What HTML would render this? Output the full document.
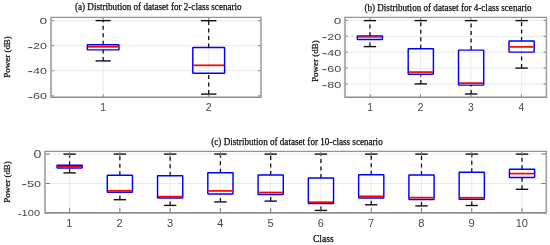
<!DOCTYPE html>
<html><head><meta charset="utf-8"><title>Distribution of dataset</title><style>
html,body{margin:0;padding:0;background:#fff;}
body{width:550px;height:245px;overflow:hidden;}
svg{display:block;}
.tk{font-family:"Liberation Sans", "DejaVu Sans", sans-serif;fill:#484848;}
.ti{font-family:"Liberation Serif", "DejaVu Serif", serif;font-size:9.4px;fill:#111;stroke:#111;stroke-width:0.25px;}
</style></head><body>
<svg width="550" height="245" viewBox="0 0 550 245">
<rect width="550" height="245" fill="#fff"/>
<line x1="51.0" y1="20.7" x2="261.0" y2="20.7" stroke="#ebebeb" stroke-width="1"/>
<line x1="51.0" y1="45.6" x2="261.0" y2="45.6" stroke="#ebebeb" stroke-width="1"/>
<line x1="51.0" y1="70.7" x2="261.0" y2="70.7" stroke="#ebebeb" stroke-width="1"/>
<line x1="103.25" y1="17.4" x2="103.25" y2="97.3" stroke="#ebebeb" stroke-width="1"/>
<line x1="208.75" y1="17.4" x2="208.75" y2="97.3" stroke="#ebebeb" stroke-width="1"/>
<line x1="103.15" y1="44.8" x2="103.15" y2="20.6" stroke="#111" stroke-width="1.3" stroke-dasharray="4 3.5"/>
<line x1="103.15" y1="60.9" x2="103.15" y2="49.9" stroke="#111" stroke-width="1.3" stroke-dasharray="4 3.5"/>
<line x1="95.55" y1="20.6" x2="110.75" y2="20.6" stroke="#111" stroke-width="1.4"/>
<line x1="95.55" y1="60.9" x2="110.75" y2="60.9" stroke="#111" stroke-width="1.4"/>
<rect x="87.35" y="44.8" width="31.6" height="5.1" rx="0.4" fill="none" stroke="#0000ff" stroke-width="1.45"/>
<line x1="87.85" y1="46.8" x2="118.45" y2="46.8" stroke="#ff0000" stroke-width="1.7"/>
<line x1="208.7" y1="47.5" x2="208.7" y2="20.7" stroke="#111" stroke-width="1.3" stroke-dasharray="4 3.5"/>
<line x1="208.7" y1="94.1" x2="208.7" y2="73.3" stroke="#111" stroke-width="1.3" stroke-dasharray="4 3.5"/>
<line x1="201.0" y1="20.7" x2="216.4" y2="20.7" stroke="#111" stroke-width="1.4"/>
<line x1="201.0" y1="94.1" x2="216.4" y2="94.1" stroke="#111" stroke-width="1.4"/>
<rect x="192.8" y="47.5" width="31.8" height="25.8" rx="0.4" fill="none" stroke="#0000ff" stroke-width="1.45"/>
<line x1="193.3" y1="65.3" x2="224.1" y2="65.3" stroke="#ff0000" stroke-width="1.7"/>
<line x1="51.0" y1="20.7" x2="53.8" y2="20.7" stroke="#7a7a7a" stroke-width="1"/>
<line x1="261.0" y1="20.7" x2="258.2" y2="20.7" stroke="#7a7a7a" stroke-width="1"/>
<line x1="51.0" y1="45.6" x2="53.8" y2="45.6" stroke="#7a7a7a" stroke-width="1"/>
<line x1="261.0" y1="45.6" x2="258.2" y2="45.6" stroke="#7a7a7a" stroke-width="1"/>
<line x1="51.0" y1="70.7" x2="53.8" y2="70.7" stroke="#7a7a7a" stroke-width="1"/>
<line x1="261.0" y1="70.7" x2="258.2" y2="70.7" stroke="#7a7a7a" stroke-width="1"/>
<line x1="51.0" y1="95.8" x2="53.8" y2="95.8" stroke="#7a7a7a" stroke-width="1"/>
<line x1="261.0" y1="95.8" x2="258.2" y2="95.8" stroke="#7a7a7a" stroke-width="1"/>
<line x1="103.25" y1="97.3" x2="103.25" y2="94.5" stroke="#7a7a7a" stroke-width="1"/>
<line x1="103.25" y1="17.4" x2="103.25" y2="20.2" stroke="#7a7a7a" stroke-width="1"/>
<line x1="208.75" y1="97.3" x2="208.75" y2="94.5" stroke="#7a7a7a" stroke-width="1"/>
<line x1="208.75" y1="17.4" x2="208.75" y2="20.2" stroke="#7a7a7a" stroke-width="1"/>
<line x1="51.0" y1="16.8" x2="51.0" y2="97.9" stroke="#b0b0b0" stroke-width="2.1"/>
<line x1="261.0" y1="16.8" x2="261.0" y2="97.9" stroke="#a4a4a4" stroke-width="1.7"/>
<line x1="51.0" y1="17.4" x2="261.0" y2="17.4" stroke="#959595" stroke-width="1.35"/>
<line x1="51.0" y1="97.3" x2="261.0" y2="97.3" stroke="#8e8e8e" stroke-width="1.6"/>
<line x1="345.0" y1="20.4" x2="546.4" y2="20.4" stroke="#ebebeb" stroke-width="1"/>
<line x1="345.0" y1="36.3" x2="546.4" y2="36.3" stroke="#ebebeb" stroke-width="1"/>
<line x1="345.0" y1="52.2" x2="546.4" y2="52.2" stroke="#ebebeb" stroke-width="1"/>
<line x1="345.0" y1="68.1" x2="546.4" y2="68.1" stroke="#ebebeb" stroke-width="1"/>
<line x1="345.0" y1="84.0" x2="546.4" y2="84.0" stroke="#ebebeb" stroke-width="1"/>
<line x1="370.1" y1="17.3" x2="370.1" y2="97.3" stroke="#ebebeb" stroke-width="1"/>
<line x1="420.5" y1="17.3" x2="420.5" y2="97.3" stroke="#ebebeb" stroke-width="1"/>
<line x1="470.9" y1="17.3" x2="470.9" y2="97.3" stroke="#ebebeb" stroke-width="1"/>
<line x1="521.4" y1="17.3" x2="521.4" y2="97.3" stroke="#ebebeb" stroke-width="1"/>
<line x1="369.9" y1="35.9" x2="369.9" y2="20.6" stroke="#111" stroke-width="1.3" stroke-dasharray="4 3.5"/>
<line x1="369.9" y1="46.6" x2="369.9" y2="39.5" stroke="#111" stroke-width="1.3" stroke-dasharray="4 3.5"/>
<line x1="363.7" y1="20.6" x2="376.1" y2="20.6" stroke="#111" stroke-width="1.4"/>
<line x1="363.7" y1="46.6" x2="376.1" y2="46.6" stroke="#111" stroke-width="1.4"/>
<rect x="357.3" y="35.9" width="25.2" height="3.6" rx="0.4" fill="none" stroke="#0000ff" stroke-width="1.45"/>
<line x1="357.8" y1="37.1" x2="382.0" y2="37.1" stroke="#ff0000" stroke-width="1.2"/>
<line x1="420.8" y1="48.8" x2="420.8" y2="20.6" stroke="#111" stroke-width="1.3" stroke-dasharray="4 3.5"/>
<line x1="420.8" y1="83.9" x2="420.8" y2="74.2" stroke="#111" stroke-width="1.3" stroke-dasharray="4 3.5"/>
<line x1="414.6" y1="20.6" x2="427.0" y2="20.6" stroke="#111" stroke-width="1.4"/>
<line x1="414.6" y1="83.9" x2="427.0" y2="83.9" stroke="#111" stroke-width="1.4"/>
<rect x="408.2" y="48.8" width="25.2" height="25.4" rx="0.4" fill="none" stroke="#0000ff" stroke-width="1.45"/>
<line x1="408.7" y1="72.1" x2="432.9" y2="72.1" stroke="#ff0000" stroke-width="1.7"/>
<line x1="471.1" y1="50.1" x2="471.1" y2="20.6" stroke="#111" stroke-width="1.3" stroke-dasharray="4 3.5"/>
<line x1="471.1" y1="94.0" x2="471.1" y2="85.1" stroke="#111" stroke-width="1.3" stroke-dasharray="4 3.5"/>
<line x1="464.9" y1="20.6" x2="477.3" y2="20.6" stroke="#111" stroke-width="1.4"/>
<line x1="464.9" y1="94.0" x2="477.3" y2="94.0" stroke="#111" stroke-width="1.4"/>
<rect x="458.5" y="50.1" width="25.2" height="35" rx="0.4" fill="none" stroke="#0000ff" stroke-width="1.45"/>
<line x1="459.0" y1="83.1" x2="483.2" y2="83.1" stroke="#ff0000" stroke-width="1.7"/>
<line x1="521.6" y1="41.0" x2="521.6" y2="20.6" stroke="#111" stroke-width="1.3" stroke-dasharray="4 3.5"/>
<line x1="521.6" y1="68.1" x2="521.6" y2="52.1" stroke="#111" stroke-width="1.3" stroke-dasharray="4 3.5"/>
<line x1="515.4" y1="20.6" x2="527.8" y2="20.6" stroke="#111" stroke-width="1.4"/>
<line x1="515.4" y1="68.1" x2="527.8" y2="68.1" stroke="#111" stroke-width="1.4"/>
<rect x="509.0" y="41.0" width="25.2" height="11.1" rx="0.4" fill="none" stroke="#0000ff" stroke-width="1.45"/>
<line x1="509.5" y1="46.9" x2="533.7" y2="46.9" stroke="#ff0000" stroke-width="1.7"/>
<line x1="345.0" y1="20.4" x2="347.8" y2="20.4" stroke="#7a7a7a" stroke-width="1"/>
<line x1="546.4" y1="20.4" x2="543.6" y2="20.4" stroke="#7a7a7a" stroke-width="1"/>
<line x1="345.0" y1="36.3" x2="347.8" y2="36.3" stroke="#7a7a7a" stroke-width="1"/>
<line x1="546.4" y1="36.3" x2="543.6" y2="36.3" stroke="#7a7a7a" stroke-width="1"/>
<line x1="345.0" y1="52.2" x2="347.8" y2="52.2" stroke="#7a7a7a" stroke-width="1"/>
<line x1="546.4" y1="52.2" x2="543.6" y2="52.2" stroke="#7a7a7a" stroke-width="1"/>
<line x1="345.0" y1="68.1" x2="347.8" y2="68.1" stroke="#7a7a7a" stroke-width="1"/>
<line x1="546.4" y1="68.1" x2="543.6" y2="68.1" stroke="#7a7a7a" stroke-width="1"/>
<line x1="345.0" y1="84.0" x2="347.8" y2="84.0" stroke="#7a7a7a" stroke-width="1"/>
<line x1="546.4" y1="84.0" x2="543.6" y2="84.0" stroke="#7a7a7a" stroke-width="1"/>
<line x1="370.1" y1="97.3" x2="370.1" y2="94.5" stroke="#7a7a7a" stroke-width="1"/>
<line x1="370.1" y1="17.3" x2="370.1" y2="20.1" stroke="#7a7a7a" stroke-width="1"/>
<line x1="420.5" y1="97.3" x2="420.5" y2="94.5" stroke="#7a7a7a" stroke-width="1"/>
<line x1="420.5" y1="17.3" x2="420.5" y2="20.1" stroke="#7a7a7a" stroke-width="1"/>
<line x1="470.9" y1="97.3" x2="470.9" y2="94.5" stroke="#7a7a7a" stroke-width="1"/>
<line x1="470.9" y1="17.3" x2="470.9" y2="20.1" stroke="#7a7a7a" stroke-width="1"/>
<line x1="521.4" y1="97.3" x2="521.4" y2="94.5" stroke="#7a7a7a" stroke-width="1"/>
<line x1="521.4" y1="17.3" x2="521.4" y2="20.1" stroke="#7a7a7a" stroke-width="1"/>
<line x1="345.0" y1="16.7" x2="345.0" y2="97.9" stroke="#b0b0b0" stroke-width="2.1"/>
<line x1="546.4" y1="16.7" x2="546.4" y2="97.9" stroke="#a4a4a4" stroke-width="1.7"/>
<line x1="345.0" y1="17.3" x2="546.4" y2="17.3" stroke="#959595" stroke-width="1.35"/>
<line x1="345.0" y1="97.3" x2="546.4" y2="97.3" stroke="#8e8e8e" stroke-width="1.6"/>
<line x1="45.0" y1="154.0" x2="546.3" y2="154.0" stroke="#ebebeb" stroke-width="1"/>
<line x1="45.0" y1="183.5" x2="546.3" y2="183.5" stroke="#ebebeb" stroke-width="1"/>
<line x1="69.6" y1="151.4" x2="69.6" y2="212.9" stroke="#ebebeb" stroke-width="1"/>
<line x1="119.87" y1="151.4" x2="119.87" y2="212.9" stroke="#ebebeb" stroke-width="1"/>
<line x1="170.14" y1="151.4" x2="170.14" y2="212.9" stroke="#ebebeb" stroke-width="1"/>
<line x1="220.41" y1="151.4" x2="220.41" y2="212.9" stroke="#ebebeb" stroke-width="1"/>
<line x1="270.68" y1="151.4" x2="270.68" y2="212.9" stroke="#ebebeb" stroke-width="1"/>
<line x1="320.95" y1="151.4" x2="320.95" y2="212.9" stroke="#ebebeb" stroke-width="1"/>
<line x1="371.22" y1="151.4" x2="371.22" y2="212.9" stroke="#ebebeb" stroke-width="1"/>
<line x1="421.49" y1="151.4" x2="421.49" y2="212.9" stroke="#ebebeb" stroke-width="1"/>
<line x1="471.76" y1="151.4" x2="471.76" y2="212.9" stroke="#ebebeb" stroke-width="1"/>
<line x1="522.03" y1="151.4" x2="522.03" y2="212.9" stroke="#ebebeb" stroke-width="1"/>
<line x1="69.6" y1="165.2" x2="69.6" y2="154.1" stroke="#111" stroke-width="1.3" stroke-dasharray="4 3.5"/>
<line x1="69.6" y1="172.9" x2="69.6" y2="168.0" stroke="#111" stroke-width="1.3" stroke-dasharray="4 3.5"/>
<line x1="63.4" y1="154.1" x2="75.8" y2="154.1" stroke="#111" stroke-width="1.4"/>
<line x1="63.4" y1="172.9" x2="75.8" y2="172.9" stroke="#111" stroke-width="1.4"/>
<rect x="57" y="165.2" width="25.2" height="2.8" rx="0.4" fill="none" stroke="#0000ff" stroke-width="1.45"/>
<line x1="57.5" y1="166.5" x2="81.7" y2="166.5" stroke="#ff0000" stroke-width="1.0"/>
<line x1="119.87" y1="175.3" x2="119.87" y2="154.1" stroke="#111" stroke-width="1.3" stroke-dasharray="4 3.5"/>
<line x1="119.87" y1="199.7" x2="119.87" y2="192.2" stroke="#111" stroke-width="1.3" stroke-dasharray="4 3.5"/>
<line x1="113.67" y1="154.1" x2="126.07" y2="154.1" stroke="#111" stroke-width="1.4"/>
<line x1="113.67" y1="199.7" x2="126.07" y2="199.7" stroke="#111" stroke-width="1.4"/>
<rect x="107.27" y="175.3" width="25.2" height="16.9" rx="0.4" fill="none" stroke="#0000ff" stroke-width="1.45"/>
<line x1="107.77" y1="190.8" x2="131.97" y2="190.8" stroke="#ff0000" stroke-width="1.7"/>
<line x1="170.14" y1="175.7" x2="170.14" y2="154.1" stroke="#111" stroke-width="1.3" stroke-dasharray="4 3.5"/>
<line x1="170.14" y1="205.4" x2="170.14" y2="198.0" stroke="#111" stroke-width="1.3" stroke-dasharray="4 3.5"/>
<line x1="163.94" y1="154.1" x2="176.34" y2="154.1" stroke="#111" stroke-width="1.4"/>
<line x1="163.94" y1="205.4" x2="176.34" y2="205.4" stroke="#111" stroke-width="1.4"/>
<rect x="157.54" y="175.7" width="25.2" height="22.3" rx="0.4" fill="none" stroke="#0000ff" stroke-width="1.45"/>
<line x1="158.04" y1="196.6" x2="182.24" y2="196.6" stroke="#ff0000" stroke-width="1.7"/>
<line x1="220.41" y1="172.7" x2="220.41" y2="154.1" stroke="#111" stroke-width="1.3" stroke-dasharray="4 3.5"/>
<line x1="220.41" y1="201.9" x2="220.41" y2="194.0" stroke="#111" stroke-width="1.3" stroke-dasharray="4 3.5"/>
<line x1="214.21" y1="154.1" x2="226.61" y2="154.1" stroke="#111" stroke-width="1.4"/>
<line x1="214.21" y1="201.9" x2="226.61" y2="201.9" stroke="#111" stroke-width="1.4"/>
<rect x="207.81" y="172.7" width="25.2" height="21.3" rx="0.4" fill="none" stroke="#0000ff" stroke-width="1.45"/>
<line x1="208.31" y1="190.9" x2="232.51" y2="190.9" stroke="#ff0000" stroke-width="1.7"/>
<line x1="270.68" y1="174.9" x2="270.68" y2="154.1" stroke="#111" stroke-width="1.3" stroke-dasharray="4 3.5"/>
<line x1="270.68" y1="201.1" x2="270.68" y2="194.4" stroke="#111" stroke-width="1.3" stroke-dasharray="4 3.5"/>
<line x1="264.48" y1="154.1" x2="276.88" y2="154.1" stroke="#111" stroke-width="1.4"/>
<line x1="264.48" y1="201.1" x2="276.88" y2="201.1" stroke="#111" stroke-width="1.4"/>
<rect x="258.08" y="174.9" width="25.2" height="19.5" rx="0.4" fill="none" stroke="#0000ff" stroke-width="1.45"/>
<line x1="258.58" y1="192.5" x2="282.78" y2="192.5" stroke="#ff0000" stroke-width="1.7"/>
<line x1="320.95" y1="178.0" x2="320.95" y2="154.1" stroke="#111" stroke-width="1.3" stroke-dasharray="4 3.5"/>
<line x1="320.95" y1="210.4" x2="320.95" y2="203.6" stroke="#111" stroke-width="1.3" stroke-dasharray="4 3.5"/>
<line x1="314.75" y1="154.1" x2="327.15" y2="154.1" stroke="#111" stroke-width="1.4"/>
<line x1="314.75" y1="210.4" x2="327.15" y2="210.4" stroke="#111" stroke-width="1.4"/>
<rect x="308.35" y="178.0" width="25.2" height="25.6" rx="0.4" fill="none" stroke="#0000ff" stroke-width="1.45"/>
<line x1="308.85" y1="202.2" x2="333.05" y2="202.2" stroke="#ff0000" stroke-width="1.7"/>
<line x1="371.22" y1="174.7" x2="371.22" y2="154.1" stroke="#111" stroke-width="1.3" stroke-dasharray="4 3.5"/>
<line x1="371.22" y1="204.8" x2="371.22" y2="198.0" stroke="#111" stroke-width="1.3" stroke-dasharray="4 3.5"/>
<line x1="365.02" y1="154.1" x2="377.42" y2="154.1" stroke="#111" stroke-width="1.4"/>
<line x1="365.02" y1="204.8" x2="377.42" y2="204.8" stroke="#111" stroke-width="1.4"/>
<rect x="358.62" y="174.7" width="25.2" height="23.3" rx="0.4" fill="none" stroke="#0000ff" stroke-width="1.45"/>
<line x1="359.12" y1="196.3" x2="383.32" y2="196.3" stroke="#ff0000" stroke-width="1.7"/>
<line x1="421.49" y1="175.0" x2="421.49" y2="154.1" stroke="#111" stroke-width="1.3" stroke-dasharray="4 3.5"/>
<line x1="421.49" y1="205.9" x2="421.49" y2="199.5" stroke="#111" stroke-width="1.3" stroke-dasharray="4 3.5"/>
<line x1="415.29" y1="154.1" x2="427.69" y2="154.1" stroke="#111" stroke-width="1.4"/>
<line x1="415.29" y1="205.9" x2="427.69" y2="205.9" stroke="#111" stroke-width="1.4"/>
<rect x="408.89" y="175.0" width="25.2" height="24.5" rx="0.4" fill="none" stroke="#0000ff" stroke-width="1.45"/>
<line x1="409.39" y1="197.6" x2="433.59" y2="197.6" stroke="#ff0000" stroke-width="1.7"/>
<line x1="471.76" y1="172.2" x2="471.76" y2="154.1" stroke="#111" stroke-width="1.3" stroke-dasharray="4 3.5"/>
<line x1="471.76" y1="205.5" x2="471.76" y2="199.2" stroke="#111" stroke-width="1.3" stroke-dasharray="4 3.5"/>
<line x1="465.56" y1="154.1" x2="477.96" y2="154.1" stroke="#111" stroke-width="1.4"/>
<line x1="465.56" y1="205.5" x2="477.96" y2="205.5" stroke="#111" stroke-width="1.4"/>
<rect x="459.16" y="172.2" width="25.2" height="27.0" rx="0.4" fill="none" stroke="#0000ff" stroke-width="1.45"/>
<line x1="459.66" y1="197.7" x2="483.86" y2="197.7" stroke="#ff0000" stroke-width="1.7"/>
<line x1="522.03" y1="169.3" x2="522.03" y2="154.1" stroke="#111" stroke-width="1.3" stroke-dasharray="4 3.5"/>
<line x1="522.03" y1="189.3" x2="522.03" y2="177.4" stroke="#111" stroke-width="1.3" stroke-dasharray="4 3.5"/>
<line x1="515.83" y1="154.1" x2="528.23" y2="154.1" stroke="#111" stroke-width="1.4"/>
<line x1="515.83" y1="189.3" x2="528.23" y2="189.3" stroke="#111" stroke-width="1.4"/>
<rect x="509.43" y="169.3" width="25.2" height="8.1" rx="0.4" fill="none" stroke="#0000ff" stroke-width="1.45"/>
<line x1="509.93" y1="173.6" x2="534.13" y2="173.6" stroke="#ff0000" stroke-width="1.7"/>
<line x1="45.0" y1="154.0" x2="49.8" y2="154.0" stroke="#7a7a7a" stroke-width="1"/>
<line x1="546.3" y1="154.0" x2="541.5" y2="154.0" stroke="#7a7a7a" stroke-width="1"/>
<line x1="45.0" y1="183.5" x2="49.8" y2="183.5" stroke="#7a7a7a" stroke-width="1"/>
<line x1="546.3" y1="183.5" x2="541.5" y2="183.5" stroke="#7a7a7a" stroke-width="1"/>
<line x1="45.0" y1="212.9" x2="49.8" y2="212.9" stroke="#7a7a7a" stroke-width="1"/>
<line x1="546.3" y1="212.9" x2="541.5" y2="212.9" stroke="#7a7a7a" stroke-width="1"/>
<line x1="69.6" y1="212.9" x2="69.6" y2="208.1" stroke="#7a7a7a" stroke-width="1"/>
<line x1="69.6" y1="151.4" x2="69.6" y2="156.2" stroke="#7a7a7a" stroke-width="1"/>
<line x1="119.87" y1="212.9" x2="119.87" y2="208.1" stroke="#7a7a7a" stroke-width="1"/>
<line x1="119.87" y1="151.4" x2="119.87" y2="156.2" stroke="#7a7a7a" stroke-width="1"/>
<line x1="170.14" y1="212.9" x2="170.14" y2="208.1" stroke="#7a7a7a" stroke-width="1"/>
<line x1="170.14" y1="151.4" x2="170.14" y2="156.2" stroke="#7a7a7a" stroke-width="1"/>
<line x1="220.41" y1="212.9" x2="220.41" y2="208.1" stroke="#7a7a7a" stroke-width="1"/>
<line x1="220.41" y1="151.4" x2="220.41" y2="156.2" stroke="#7a7a7a" stroke-width="1"/>
<line x1="270.68" y1="212.9" x2="270.68" y2="208.1" stroke="#7a7a7a" stroke-width="1"/>
<line x1="270.68" y1="151.4" x2="270.68" y2="156.2" stroke="#7a7a7a" stroke-width="1"/>
<line x1="320.95" y1="212.9" x2="320.95" y2="208.1" stroke="#7a7a7a" stroke-width="1"/>
<line x1="320.95" y1="151.4" x2="320.95" y2="156.2" stroke="#7a7a7a" stroke-width="1"/>
<line x1="371.22" y1="212.9" x2="371.22" y2="208.1" stroke="#7a7a7a" stroke-width="1"/>
<line x1="371.22" y1="151.4" x2="371.22" y2="156.2" stroke="#7a7a7a" stroke-width="1"/>
<line x1="421.49" y1="212.9" x2="421.49" y2="208.1" stroke="#7a7a7a" stroke-width="1"/>
<line x1="421.49" y1="151.4" x2="421.49" y2="156.2" stroke="#7a7a7a" stroke-width="1"/>
<line x1="471.76" y1="212.9" x2="471.76" y2="208.1" stroke="#7a7a7a" stroke-width="1"/>
<line x1="471.76" y1="151.4" x2="471.76" y2="156.2" stroke="#7a7a7a" stroke-width="1"/>
<line x1="522.03" y1="212.9" x2="522.03" y2="208.1" stroke="#7a7a7a" stroke-width="1"/>
<line x1="522.03" y1="151.4" x2="522.03" y2="156.2" stroke="#7a7a7a" stroke-width="1"/>
<line x1="45.0" y1="150.8" x2="45.0" y2="213.5" stroke="#b0b0b0" stroke-width="2.1"/>
<line x1="546.3" y1="150.8" x2="546.3" y2="213.5" stroke="#a4a4a4" stroke-width="1.7"/>
<line x1="45.0" y1="151.4" x2="546.3" y2="151.4" stroke="#959595" stroke-width="1.35"/>
<line x1="45.0" y1="212.9" x2="546.3" y2="212.9" stroke="#8e8e8e" stroke-width="1.6"/>
<text transform="translate(47.04 24.30) scale(1.42 1)" text-anchor="end" class="tk" font-size="9.6">0</text>
<text transform="translate(46.87 49.30) scale(1.27 1)" text-anchor="end" class="tk" font-size="9.9"><tspan font-size="12.9" dy="1.35">-</tspan><tspan dy="-1.35">20</tspan></text>
<text transform="translate(46.87 74.10) scale(1.27 1)" text-anchor="end" class="tk" font-size="9.9"><tspan font-size="12.9" dy="1.35">-</tspan><tspan dy="-1.35">40</tspan></text>
<text transform="translate(47.07 99.30) scale(1.27 1)" text-anchor="end" class="tk" font-size="9.9"><tspan font-size="12.9" dy="1.35">-</tspan><tspan dy="-1.35">60</tspan></text>
<text transform="translate(103.00 110.90) scale(1.0 1)" text-anchor="middle" class="tk" font-size="10.3">1</text>
<text transform="translate(208.50 110.90) scale(1.0 1)" text-anchor="middle" class="tk" font-size="10.3">2</text>
<text transform="translate(341.34 24.00) scale(1.42 1)" text-anchor="end" class="tk" font-size="9.6">0</text>
<text transform="translate(341.17 39.60) scale(1.27 1)" text-anchor="end" class="tk" font-size="9.9"><tspan font-size="12.9" dy="1.35">-</tspan><tspan dy="-1.35">20</tspan></text>
<text transform="translate(341.17 55.60) scale(1.27 1)" text-anchor="end" class="tk" font-size="9.9"><tspan font-size="12.9" dy="1.35">-</tspan><tspan dy="-1.35">40</tspan></text>
<text transform="translate(341.17 71.60) scale(1.27 1)" text-anchor="end" class="tk" font-size="9.9"><tspan font-size="12.9" dy="1.35">-</tspan><tspan dy="-1.35">60</tspan></text>
<text transform="translate(341.17 87.60) scale(1.27 1)" text-anchor="end" class="tk" font-size="9.9"><tspan font-size="12.9" dy="1.35">-</tspan><tspan dy="-1.35">80</tspan></text>
<text transform="translate(370.10 111.00) scale(1.0 1)" text-anchor="middle" class="tk" font-size="10.3">1</text>
<text transform="translate(420.50 111.00) scale(1.0 1)" text-anchor="middle" class="tk" font-size="10.3">2</text>
<text transform="translate(470.90 111.00) scale(1.0 1)" text-anchor="middle" class="tk" font-size="10.3">3</text>
<text transform="translate(521.40 111.00) scale(1.0 1)" text-anchor="middle" class="tk" font-size="10.3">4</text>
<text transform="translate(41.34 157.80) scale(1.42 1)" text-anchor="end" class="tk" font-size="10.0">0</text>
<text transform="translate(40.87 186.80) scale(1.27 1)" text-anchor="end" class="tk" font-size="9.9"><tspan font-size="12.9" dy="1.35">-</tspan><tspan dy="-1.35">50</tspan></text>
<text transform="translate(40.10 216.00) scale(1.12 1)" text-anchor="end" class="tk" font-size="9.9"><tspan font-size="11" dy="1.1">-</tspan><tspan dy="-1.1">100</tspan></text>
<text transform="translate(69.40 226.90) scale(1.05 1)" text-anchor="middle" class="tk" font-size="10.5">1</text>
<text transform="translate(119.67 226.90) scale(1.05 1)" text-anchor="middle" class="tk" font-size="10.5">2</text>
<text transform="translate(169.94 226.90) scale(1.05 1)" text-anchor="middle" class="tk" font-size="10.5">3</text>
<text transform="translate(220.21 226.90) scale(1.05 1)" text-anchor="middle" class="tk" font-size="10.5">4</text>
<text transform="translate(270.48 226.90) scale(1.05 1)" text-anchor="middle" class="tk" font-size="10.5">5</text>
<text transform="translate(320.75 226.90) scale(1.05 1)" text-anchor="middle" class="tk" font-size="10.5">6</text>
<text transform="translate(371.02 226.90) scale(1.05 1)" text-anchor="middle" class="tk" font-size="10.5">7</text>
<text transform="translate(421.29 226.90) scale(1.05 1)" text-anchor="middle" class="tk" font-size="10.5">8</text>
<text transform="translate(471.56 226.90) scale(1.05 1)" text-anchor="middle" class="tk" font-size="10.5">9</text>
<text transform="translate(521.83 226.90) scale(1.05 1)" text-anchor="middle" class="tk" font-size="10.5">10</text>
<text x="158.3" y="10.2" text-anchor="middle" class="ti" textLength="166.6" lengthAdjust="spacingAndGlyphs">(a) Distribution of dataset for 2-class scenario</text>
<text x="448.0" y="10.7" text-anchor="middle" class="ti" textLength="167.2" lengthAdjust="spacingAndGlyphs">(b) Distribution of dataset for 4-class scenario</text>
<text x="297.0" y="144.9" text-anchor="middle" class="ti" textLength="171.4" lengthAdjust="spacingAndGlyphs">(c) Distribution of dataset for 10-class scenario</text>
<text x="0" y="0" transform="translate(10.4 56.95) rotate(-90)" text-anchor="middle" class="ti" style="font-size:8.6px" textLength="41.6" lengthAdjust="spacingAndGlyphs">Power (dB)</text>
<text x="0" y="0" transform="translate(318.4 61.15) rotate(-90)" text-anchor="middle" class="ti" style="font-size:8.6px" textLength="41.6" lengthAdjust="spacingAndGlyphs">Power (dB)</text>
<text x="0" y="0" transform="translate(10.4 181.95) rotate(-90)" text-anchor="middle" class="ti" style="font-size:8.6px" textLength="41.6" lengthAdjust="spacingAndGlyphs">Power (dB)</text>
<text x="323.3" y="241.7" text-anchor="middle" class="ti" textLength="20.6" lengthAdjust="spacingAndGlyphs">Class</text>
</svg>
</body></html>
